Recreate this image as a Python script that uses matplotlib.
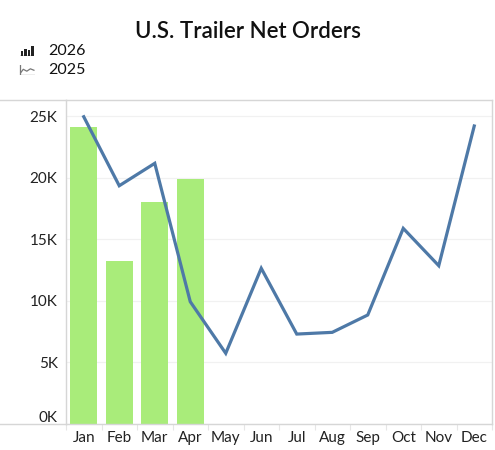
import matplotlib.pyplot as plt
import matplotlib.transforms as mtransforms
from matplotlib.lines import Line2D
import numpy as np

# Monthly net orders (units)
months = ['Jan', 'Feb', 'Mar', 'Apr', 'May', 'Jun', 'Jul', 'Aug', 'Sep', 'Oct', 'Nov', 'Dec']
orders_2026 = [24080, 13260, 18050, 19890]
orders_2025 = [24940, 19340, 21160, 9930, 5740, 12640, 7300, 7440, 8850, 15880, 12850, 24190]
ytick_vals = [0, 5000, 10000, 15000, 20000, 25000]
ytick_labels = ['0K', '5K', '10K', '15K', '20K', '25K']

plt.rcParams['font.family'] = ['Lato', 'DejaVu Sans']

bar_color = '#a9ec7a'
line_color = '#4e79a7'
border = '#d6d6d6'

fig = plt.figure(figsize=(4.95, 4.5), dpi=100)
W, H = 495, 450
ax = fig.add_axes([66 / W, 1 - 424 / H, (492 - 66) / W, (424 - 100) / H])

x = np.arange(len(months))
ax.bar(x[:len(orders_2026)], orders_2026, width=0.76, color=bar_color, zorder=2)
ax.plot(x, orders_2025, color=line_color, lw=2.3, zorder=3, solid_joinstyle='miter')

ax.set_xlim(-0.5, 11.5)
ax.set_ylim(0, 26300)

ax.set_yticks(ytick_vals)
ax.set_yticklabels(ytick_labels)
ax.set_xticks(x)
ax.set_xticklabels(months)
ax.set_xticks(np.arange(-0.5, 12, 1), minor=True)
ax.tick_params(axis='both', which='major', length=0, labelsize=11, colors='#222222')
ax.tick_params(axis='y', pad=6)
ax.tick_params(axis='x', pad=5)
ax.tick_params(axis='x', which='minor', length=4, color='#e6e6e6', width=0.8)

# nudge the 0K label up like the original
lbl0 = ax.get_yticklabels()[0]
lbl0.set_transform(lbl0.get_transform() + mtransforms.ScaledTranslation(0, 8 / 100, fig.dpi_scale_trans))

ax.grid(axis='y', color='#f1f1f1', lw=0.9, zorder=0)
for s in ax.spines.values():
    s.set_color(border)
    s.set_linewidth(1.0)

# gutter lines to the left of the plot area
for yy in (100, 424):
    fig.add_artist(Line2D([0, 66 / W], [1 - yy / H, 1 - yy / H], color=border, lw=1.0))

fig.text(248 / W, 1 - 32 / H, 'U.S. Trailer Net Orders', ha='center', va='center',
         fontsize=16, fontweight='semibold', color='#111111')

# legend
fig.text(48 / W, 1 - 51 / H, '2026', ha='left', va='center', fontsize=11.5, color='#111111')
fig.text(48 / W, 1 - 70 / H, '2025', ha='left', va='center', fontsize=11.5, color='#111111')

ic1 = fig.add_axes([20 / W, 1 - 56 / H, 14 / W, 10 / H])
ic1.bar([0, 1, 2, 3], [0.5, 0.75, 0.6, 1.0], width=0.8, color='#222222')
ic1.axhline(0, color='#222222', lw=1.0)
ic1.set_xlim(-0.6, 3.5)
ic1.set_ylim(0, 1)
ic1.axis('off')

ic2 = fig.add_axes([19 / W, 1 - 75 / H, 16 / W, 10 / H])
ic2.plot([0.3, 1, 2, 3, 4], [0.2, 0.55, 0.35, 0.6, 0.45], color='#777777', lw=0.9)
ic2.plot([0, 0, 4.2], [1, 0, 0], color='#777777', lw=0.9)
ic2.set_xlim(-0.2, 4.3)
ic2.set_ylim(-0.05, 1)
ic2.axis('off')

fig.savefig('out.png', dpi=100)
